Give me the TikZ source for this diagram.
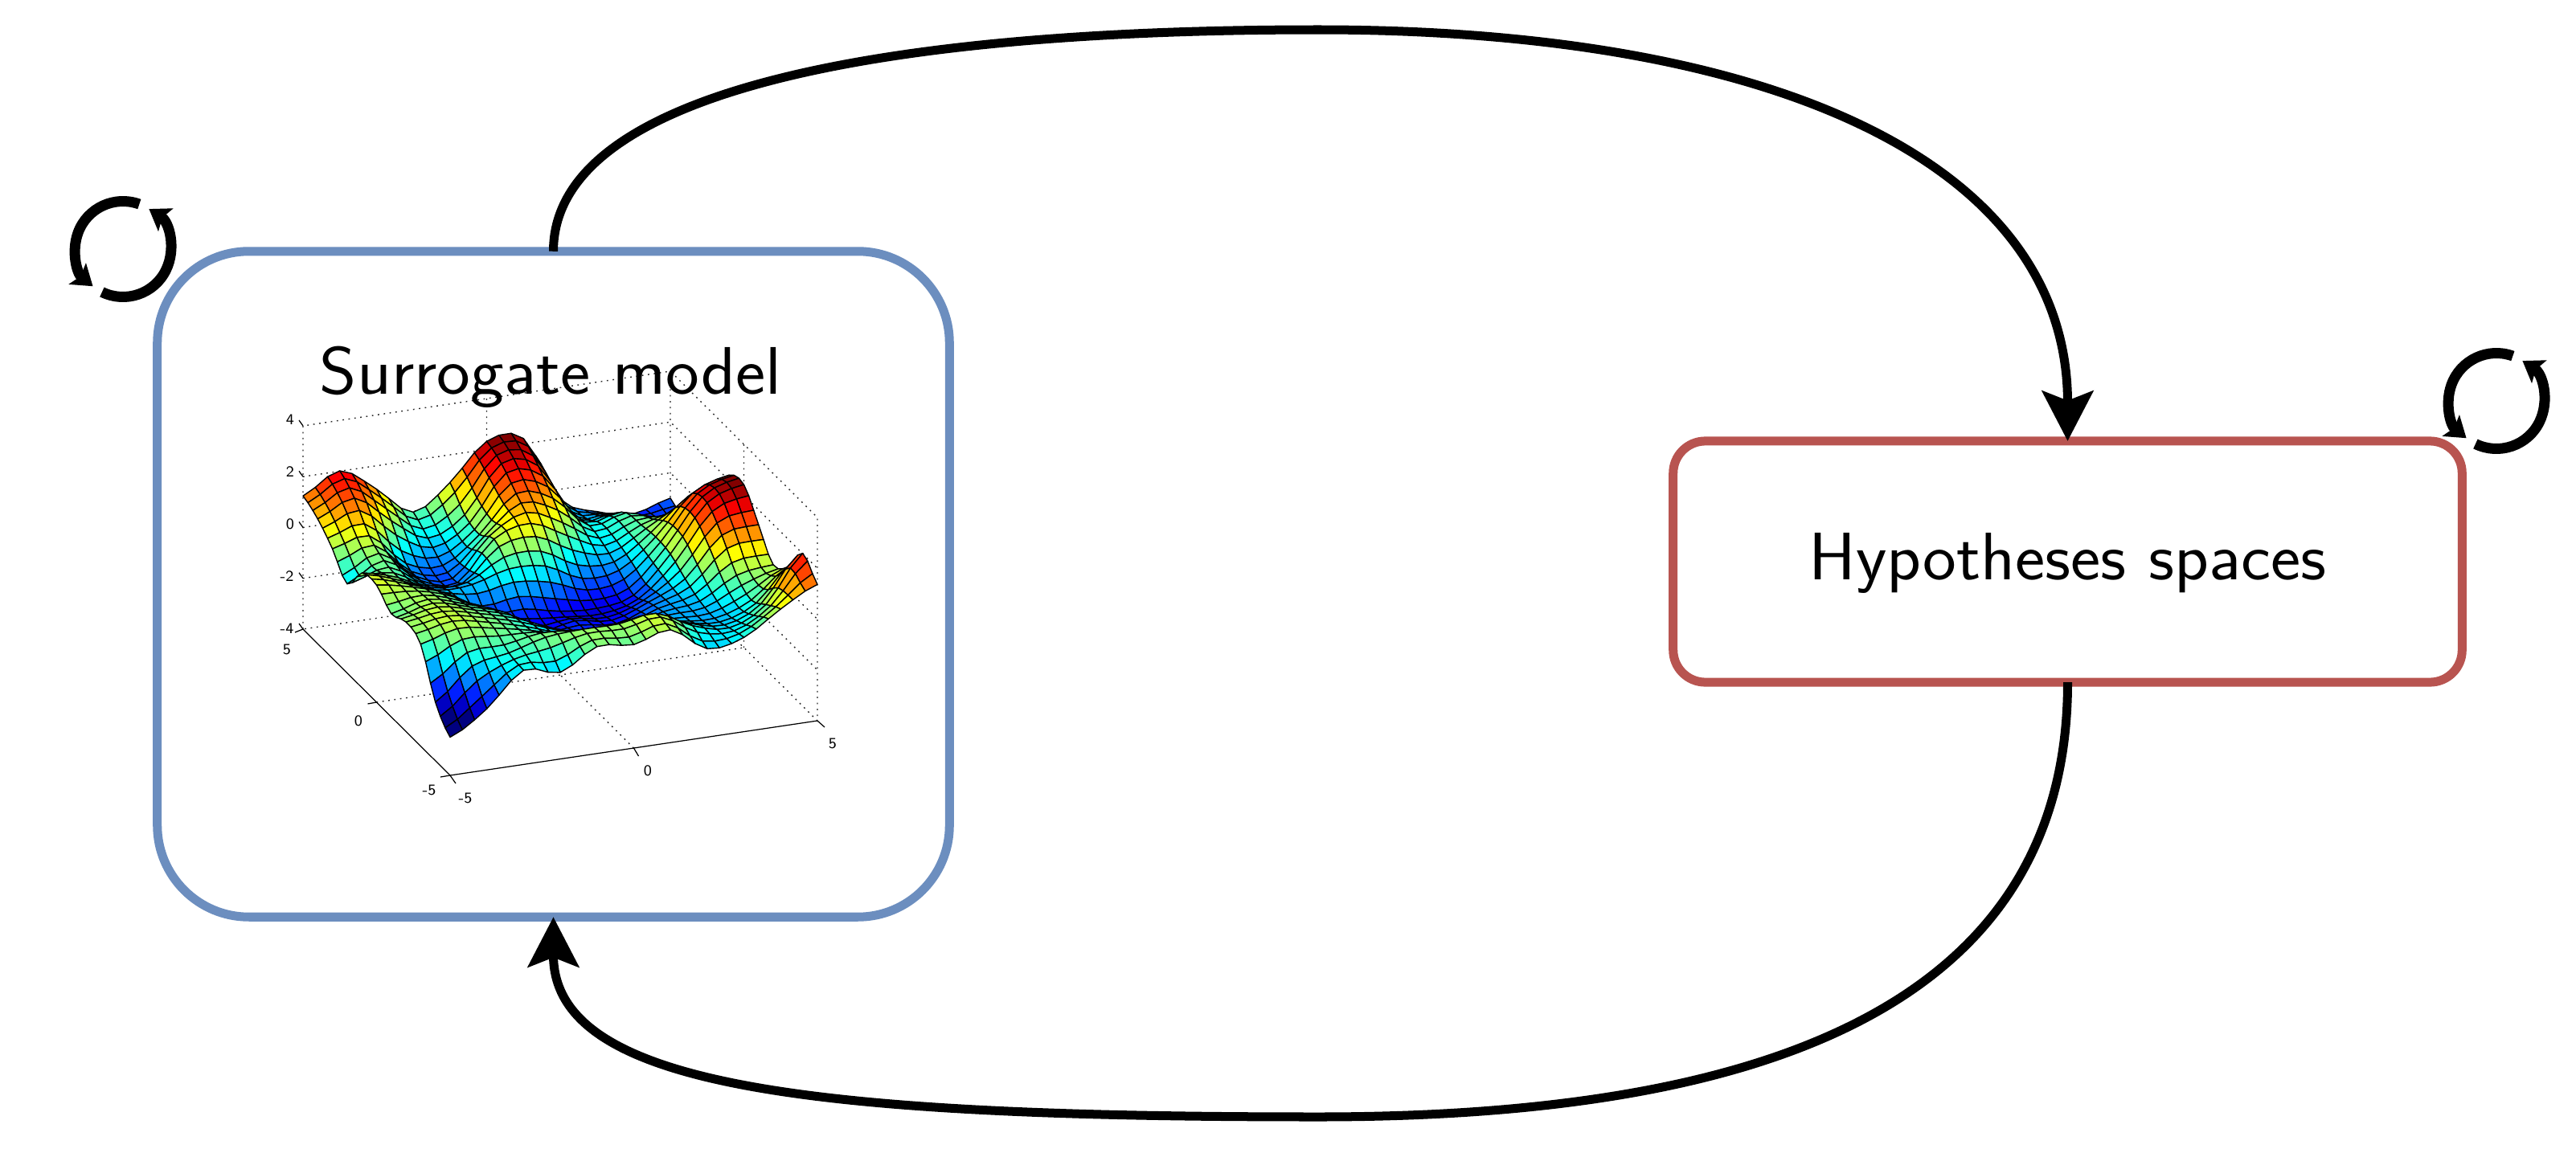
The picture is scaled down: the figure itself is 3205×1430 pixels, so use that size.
\documentclass[tikz,border=0pt]{standalone}
\usepackage{graphicx}
\usetikzlibrary{arrows.meta}
\definecolor{bluebox}{HTML}{6C8EBF}
\definecolor{redbox}{HTML}{B85450}
\newcommand\labfont{\sffamily\fontsize{23.8}{28}\selectfont}
\tikzset{
 boxnode/.style={rectangle,draw,line width=3.13pt,outer sep=0pt,inner sep=0pt,font=\labfont},
 link/.style={line width=3.13pt,black,-{Stealth[length=17.7pt,width=18pt,inset=3.4pt]}},
 cycarc/.style={line width=3.7pt,black,-{Stealth[length=7pt,width=9.5pt,inset=1.4pt]}},
 griddot/.style={line width=0.4pt,black!85,dash pattern=on 0.5pt off 1.6pt},
 axisline/.style={line width=0.35pt,black},
 ticklabel/.style={font=\sffamily\fontsize{5.4}{6}\selectfont,inner sep=0pt},
 surfcell/.style={line width=0.4pt,black,line join=round},
}
% coarse height table: rows y=-5..5, columns x=-5..5
\foreach \r [count=\j from 0] in {
 {-2.5,-1.6,-.3,-.6,.2,.06,.43,-.53,-.3,.6,1.35},
 {-1.7,-.5,-.2,.2,.3,.3,.5,-.2,-.5,.2,2.0},
 {.0,.4,.2,-.1,-.5,-.6,-.4,-.6,-.7,-.2,.9},
 {.3,.5,.2,-.2,-.8,-1.2,-1.2,-.8,-.6,.2,.4},
 {.05,.4,0,-.5,-1.5,-1.3,-1.5,-1,-.3,1.2,1.4},
 {.6,.3,-.2,-1.2,-1.2,-1.5,-1.6,-1.3,.1,1.9,2.4},
 {.5,.1,-.6,-.6,-.2,-.3,-1.0,-.9,.2,1.7,2.2},
 {-.5,.2,-.8,-1.1,.4,.8,.1,-.5,.1,.5,1.0},
 {.3,.6,-.7,-1.0,.0,1.4,1.0,-.3,.0,-.5,-.6},
 {.9,1.5,.4,-.5,.2,2.0,1.7,-.5,-.6,-1.0,-1.3},
 {1.23,2.0,1.07,-.05,.9,2.3,2.2,-.4,-1.1,-1.4,-1.0}}
{\foreach \v [count=\i from 0] in \r {\expandafter\xdef\csname T\i-\j\endcsname{\v}}}
\newcommand\myclamp[1]{\the\numexpr\ifnum\numexpr#1\relax<0 0\else\ifnum\numexpr#1\relax>10 10\else#1\fi\fi\relax}
\newcommand\crf[5]{\fpeval{round(0.5*(2*(#2)+((#3)-(#1))*(#5)+(2*(#1)-5*(#2)+4*(#3)-(#4))*(#5)^2+(3*(#2)-(#1)-3*(#3)+(#4))*(#5)^3),4)}}
\newcommand\gv[1]{\csname #1\endcsname}
\foreach \a in {0,...,30}{
 \pgfmathtruncatemacro\io{min(floor(\a/3),9)}
 \edef\ff{\fpeval{(\a-3*\io)/3}}
 \foreach \j in {0,...,10}{
  \expandafter\xdef\csname R\a-\j\endcsname{\crf{\gv{T\myclamp{\io-1}-\j}}{\gv{T\io-\j}}{\gv{T\the\numexpr\io+1\relax-\j}}{\gv{T\myclamp{\io+2}-\j}}{\ff}}
 }
 \foreach \b in {0,...,30}{
  \pgfmathtruncatemacro\jo{min(floor(\b/3),9)}
  \edef\gfrac{\fpeval{(\b-3*\jo)/3}}
  \expandafter\xdef\csname Z\a-\b\endcsname{\crf{\gv{R\a-\myclamp{\jo-1}}}{\gv{R\a-\jo}}{\gv{R\a-\the\numexpr\jo+1\relax}}{\gv{R\a-\myclamp{\jo+2}}}{\gfrac}}
  \expandafter\xdef\csname X\a-\b\endcsname{\fpeval{round(560+457*\a/30-183*\b/30,2)}}
  \expandafter\xdef\csname Y\a-\b\endcsname{\fpeval{round(965-68*\a/30-182*\b/30-31.7*(\gv{Z\a-\b}+4),2)}}
 }
}
\begin{document}
\begin{tikzpicture}[x=0.01cm,y=-0.01cm]
\useasboundingbox (0,0) rectangle (3205,1430);
% boxes
\node[boxnode,draw=bluebox,minimum width=9.85cm,minimum height=8.28cm,rounded corners=1.14cm] (surr) at (688.5,727) {};
\node[boxnode,draw=redbox,minimum width=9.81cm,minimum height=3.0cm,rounded corners=0.4cm] (hyp) at (2572.5,699) {\raisebox{-6.4pt}[0pt][0pt]{\scalebox{1.06}[1]{Hypotheses spaces}}};
% plot frame
\coordinate (A) at (560,965); \coordinate (B) at (1017,897);
\coordinate (C) at (377,783);  \coordinate (D) at (834,715);
\coordinate (Ctop) at (377,530); \coordinate (Dtop) at (834,462); \coordinate (Btop) at (1017,644);
\coordinate (mCD) at (605.5,749); \coordinate (mCDt) at (605.5,496);
\coordinate (mDB) at (925.5,806); \coordinate (mDBt) at (925.5,553);
\coordinate (mAB) at (788.5,931); \coordinate (mAC) at (468.5,874);
\draw[griddot] (C)--(Ctop)--(Dtop)--(Btop)--(B)--(D)--(C) (D)--(Dtop) (mCD)--(mCDt) (mDB)--(mDBt) (mAB)--(mCD) (mAC)--(mDB);
\foreach \k in {63.25,126.5,189.75}{
 \draw[griddot] ([yshift=\k*0.01cm]C)--([yshift=\k*0.01cm]D)--([yshift=\k*0.01cm]B);
}
\draw[axisline] (C)--(A)--(B);
\draw[axisline] (A)--+(7,10) (mAB)--+(6,10) (B)--+(9,8) (C)--+(-10,4) (mAC)--+(-11,2) (A)--+(-12,2);
\foreach \k in {0,63.25,126.5,189.75,253}{
 \draw[axisline] ([yshift=-\k*0.01cm]Ctop)--+(-5,-7);
}
\node[ticklabel] (z4) at (361,522) {4};
\node[ticklabel] (z2) at (361,587) {2};
\node[ticklabel] (z0) at (361,652) {0};
\node[ticklabel] (zm2) at (357,717) {-2};
\node[ticklabel] (zm4) at (357,782) {-4};
\node[ticklabel] (y5) at (357,808) {5};
\node[ticklabel] (y0) at (446,897) {0};
\node[ticklabel] (ym5) at (534,983) {-5};
\node[ticklabel] (xm5) at (579,993) {-5};
\node[ticklabel] (x0) at (806,959) {0};
\node[ticklabel] (x5) at (1036,925) {5};
% surface
\foreach \a in {29,28,...,0}{
 \foreach \b in {29,28,...,0}{
  \edef\aa{\the\numexpr\a+1\relax}
  \edef\bb{\the\numexpr\b+1\relax}
  \edef\vv{\fpeval{max(0,min(1,((\gv{Z\a-\b}+\gv{Z\aa-\b}+\gv{Z\a-\bb}+\gv{Z\aa-\bb})/4+2.0)/4.4))}}
  \edef\colR{\fpeval{round(max(0,min(1,1.5-abs(4*\vv-3))),3)}}
  \edef\colG{\fpeval{round(max(0,min(1,1.5-abs(4*\vv-2))),3)}}
  \edef\colB{\fpeval{round(max(0,min(1,1.5-abs(4*\vv-1))),3)}}
  \definecolor{jetc}{rgb}{\colR,\colG,\colB}
  \filldraw[surfcell,fill=jetc] (\gv{X\a-\b},\gv{Y\a-\b})--(\gv{X\aa-\b},\gv{Y\aa-\b})--(\gv{X\aa-\bb},\gv{Y\aa-\bb})--(\gv{X\a-\bb},\gv{Y\a-\bb})--cycle;
 }
}
\node[font=\labfont,inner sep=0pt,anchor=base] (surrlabel) at (685,490) {\scalebox{1.06}[1]{Surrogate model}};
% connectors
\coordinate (topmid) at (1640,37);
\coordinate (botmid) at (1640,1390);
\draw[link] (surr.north) .. controls +(0,-190) and +(-580,0) .. (topmid) .. controls +(560,0) and +(0,-350) .. (hyp.north);
\draw[link] (hyp.south) .. controls +(0,400) and +(560,0) .. (botmid) .. controls +(-640,0) and +(0,210) .. (surr.south);
% cycle icons
\coordinate (cycL) at (153,310);
\coordinate (cycR) at (3106,499);
\foreach \c in {cycL,cycR}{
 \draw[cycarc] (\c)++(-70:59.5) arc[start angle=-70,end angle=-231,radius=59.5];
 \draw[cycarc] (\c)++(-244:59.5) arc[start angle=-244,end angle=-417,radius=59.5];
}
\end{tikzpicture}
\end{document}
